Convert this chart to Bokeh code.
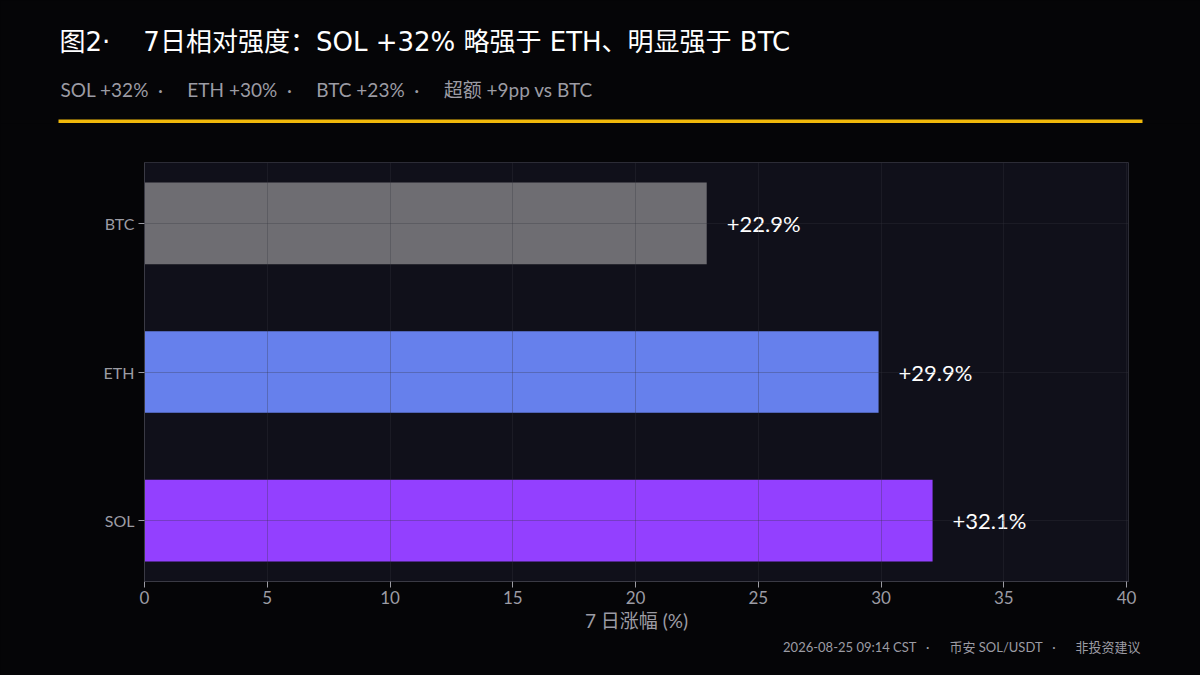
from bokeh.plotting import figure
from bokeh.models import (ColumnDataSource, Title, FixedTicker, Range1d,
                          GlobalInlineStyleSheet)
from bokeh.core.properties import value
from bokeh.embed import file_html
from bokeh.resources import INLINE

NB = "\u00a0"
coins = ["SOL", "ETH", "BTC"]
returns = [32.1, 29.9, 22.9]
value_labels = ["+32.1%", "+29.9%", "+22.9%"]
x_ticks = [0, 5, 10, 15, 20, 25, 30, 35, 40]

title_text = f"图2·{NB*4}7日相对强度：SOL +32% 略强于 ETH、明显强于 BTC"
subtitle_text = (f"SOL +32%{NB*2}·{NB*5}ETH +30%{NB*2}·{NB*5}"
                 f"BTC +23%{NB*2}·{NB*5}超额 +9pp vs BTC")
footer_text = f"2026-08-25 09:14 CST{NB*3}·{NB*6}币安 SOL/USDT{NB*3}·{NB*6}非投资建议"
xlabel_text = "7 日涨幅 (%)"

bar_colors = ["#9340ff", "#6680ec", "#6e6d72"]
FONT = "Lato, 'Noto Sans CJK SC', sans-serif"
TFONT = "'DejaVu Sans', 'Noto Sans CJK SC', sans-serif"
BG = "#050507"
PLOT_BG = "#10101a"
MUTED = "#9c9ca4"
ACCENT = "#f0b90b"
W, H = 1200, 675
HEAD_H = 123

css = GlobalInlineStyleSheet(
    css=f"html,body{{background:{BG};margin:0;padding:0;overflow:hidden;}}")

# ---- header: titles above a 4px-high frame that forms the yellow rule ----
head = figure(width=W, height=HEAD_H, output_backend="svg", toolbar_location=None,
              frame_width=1084, frame_height=4,
              min_border_left=58, min_border_right=58,
              min_border_top=HEAD_H - 4, min_border_bottom=0,
              x_range=Range1d(0, 1), y_range=Range1d(0, 1),
              background_fill_color=ACCENT, border_fill_color=BG,
              outline_line_color=None, stylesheets=[css])
head.axis.visible = False
head.grid.visible = False
head.title.text = title_text
head.title.text_color = "#ffffff"
head.title.text_font = TFONT
head.title.text_font_size = "26px"
head.title.text_font_style = "normal"
head.title.text_line_height = 0.9
head.title.align = "left"
head.title.offset = 1
head.title.standoff = 0
head.add_layout(Title(text=subtitle_text, text_color=MUTED, text_font=FONT,
                      text_font_size="19px", text_font_style="normal",
                      align="left", offset=2, standoff=38), "above")

# ---- main chart ----
src = ColumnDataSource(dict(
    y=list(range(len(coins))), v=returns, c=bar_colors, lab=value_labels))

MAIN_H = H - HEAD_H
TOP = 162 - HEAD_H
p = figure(width=W, height=MAIN_H, output_backend="svg", toolbar_location=None,
           x_range=Range1d(0, 40.08), y_range=Range1d(-0.41, 2.41),
           frame_width=984, frame_height=419,
           min_border_left=144, min_border_right=72,
           min_border_top=TOP, min_border_bottom=MAIN_H - TOP - 419,
           background_fill_color=PLOT_BG, border_fill_color=BG,
           outline_line_color="#2c2c36", stylesheets=[css])

p.hbar(y="y", right="v", left=0, height=0.55, color="c", source=src, line_color=None)
p.text(x="v", y="y", text="lab", source=src, x_offset=20, text_baseline="middle",
       text_align="left", text_color="#ffffff", text_font_size="22px",
       text_font=value(FONT))

p.xaxis.ticker = FixedTicker(ticks=x_ticks)
p.yaxis.ticker = FixedTicker(ticks=list(range(len(coins))))
p.yaxis.major_label_overrides = {i: c for i, c in enumerate(coins)}
for ax in (p.xaxis[0], p.yaxis[0]):
    ax.axis_line_color = "#3a3a44"
    ax.major_tick_line_color = MUTED
    ax.major_tick_in = 0
    ax.major_tick_out = 6
    ax.minor_tick_line_color = None
    ax.major_label_text_color = MUTED
    ax.major_label_text_font = FONT
    ax.major_label_text_font_size = "17px"
p.xaxis.major_label_standoff = 3
p.yaxis.major_label_standoff = 4
p.yaxis.major_label_text_font_size = "16px"
p.xaxis.axis_label = xlabel_text
p.xaxis.axis_label_text_color = MUTED
p.xaxis.axis_label_text_font = FONT
p.xaxis.axis_label_text_font_size = "19px"
p.xaxis.axis_label_text_font_style = "normal"
p.xaxis.axis_label_standoff = 2

for g in (p.xgrid[0], p.ygrid[0]):
    g.grid_line_color = "#34343f"
    g.grid_line_alpha = 0.3
    g.level = "overlay"

p.add_layout(Title(text=footer_text, text_color=MUTED, text_font=FONT,
                   text_font_size="13px", text_font_style="normal",
                   align="right", offset=-12, standoff=4), "below")

# two independent roots stacked vertically (no frame alignment between them)
open("out.html", "w").write(file_html([head, p], INLINE))
